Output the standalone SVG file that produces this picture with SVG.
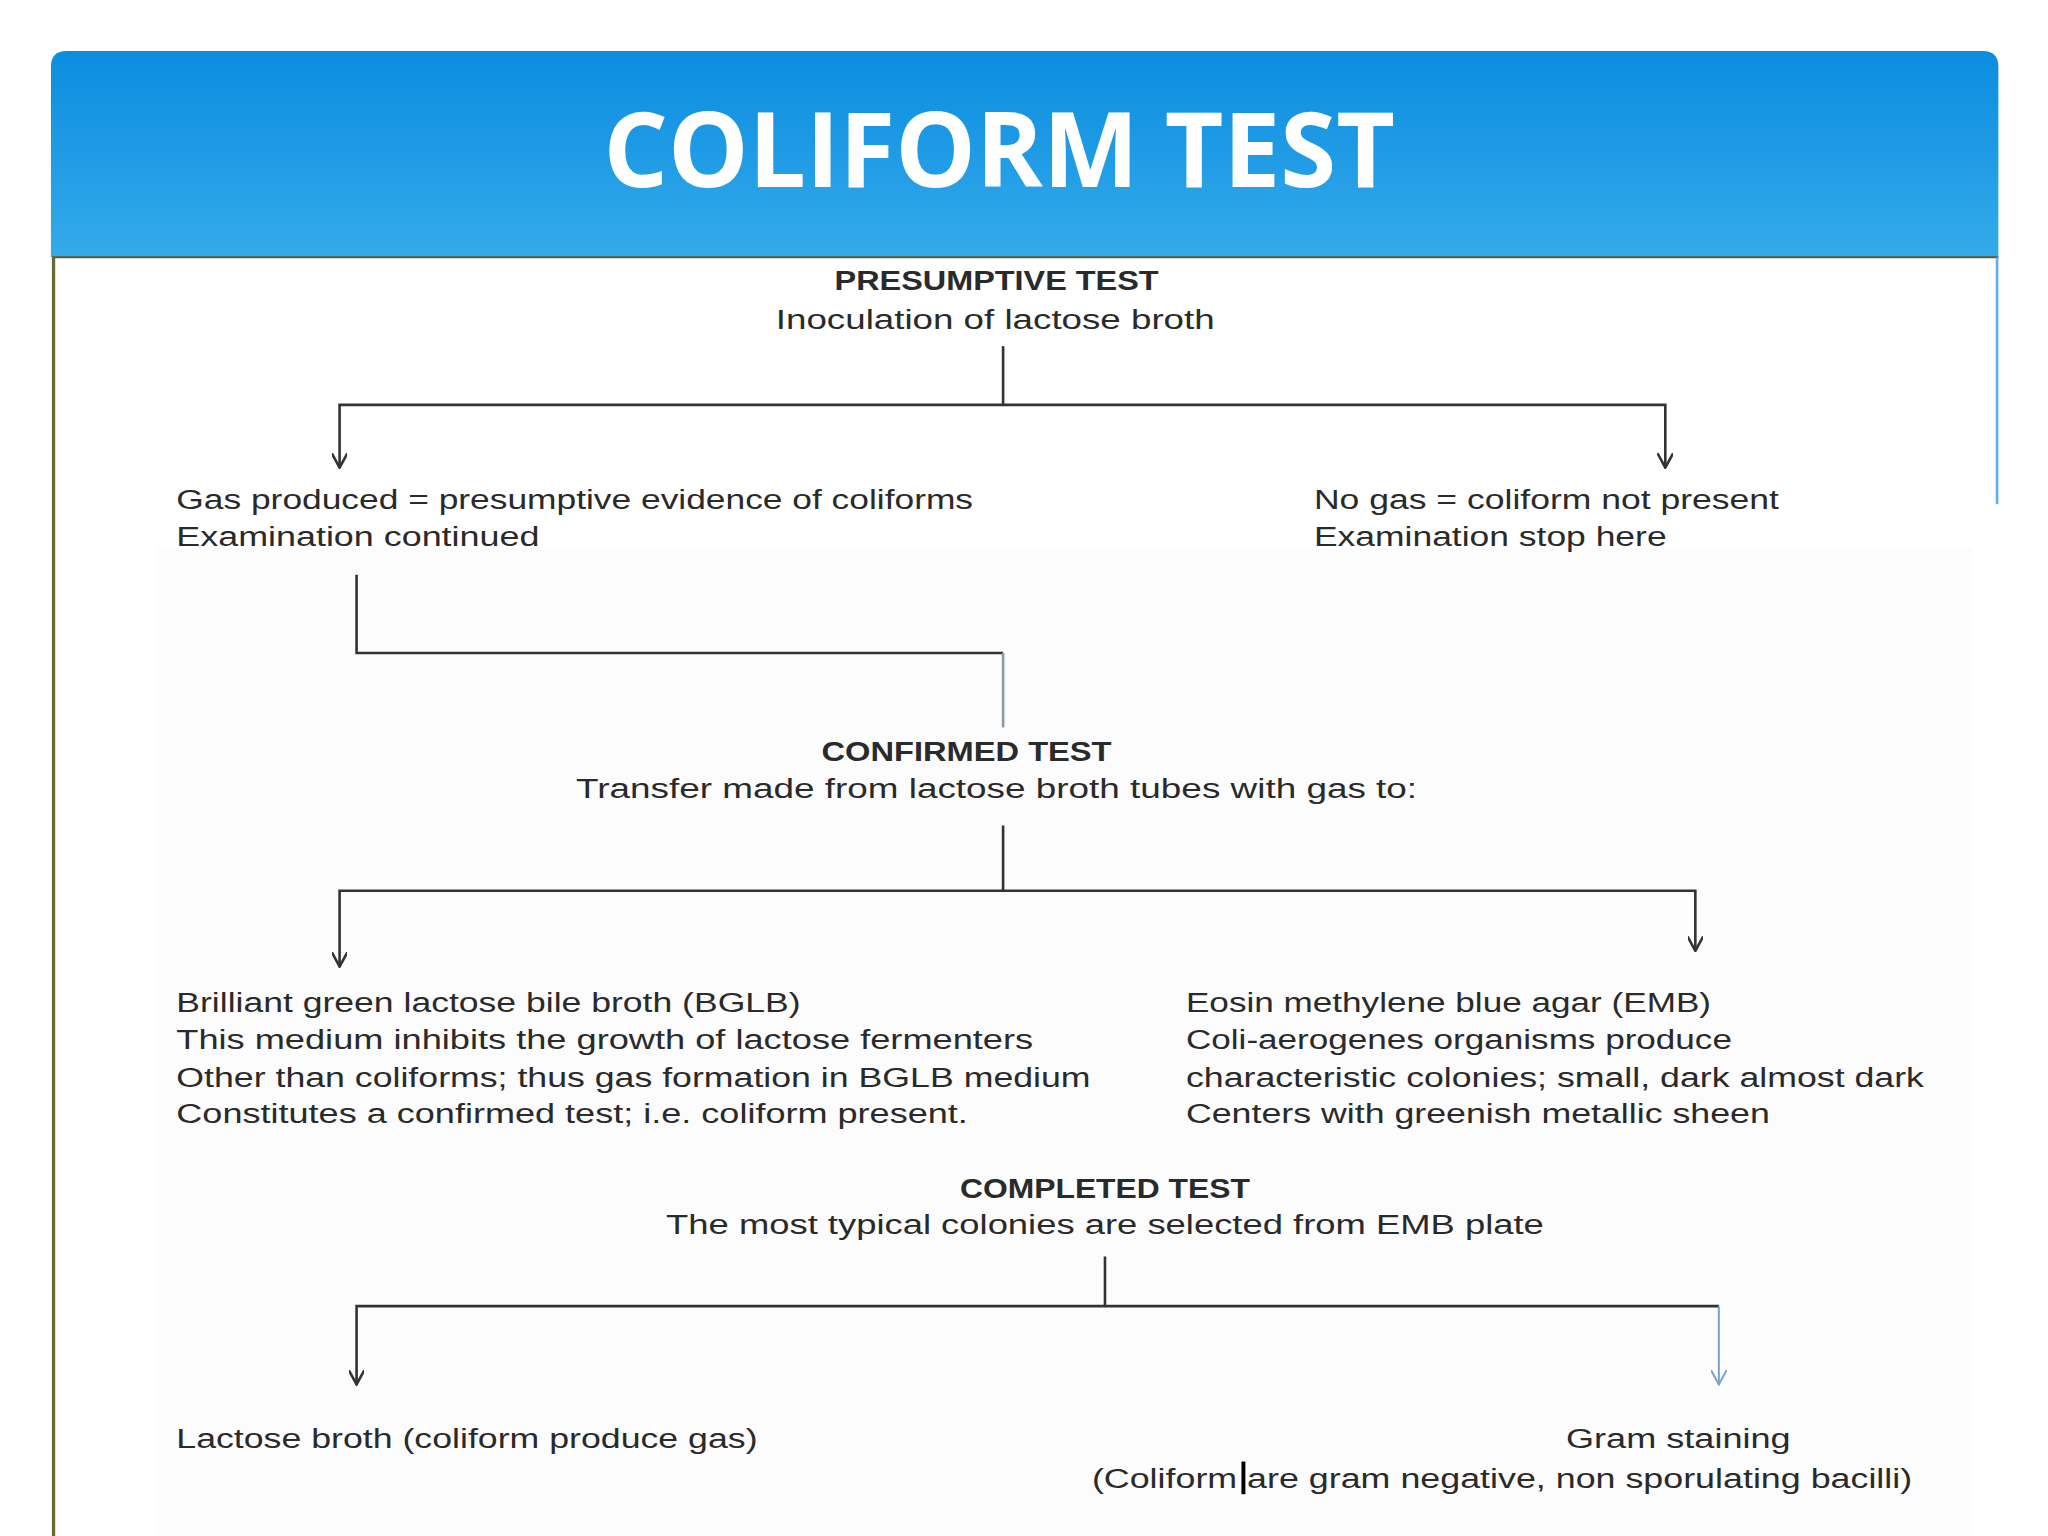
<svg xmlns="http://www.w3.org/2000/svg" width="2048" height="1536" viewBox="0 0 2048 1536">
<defs>
<linearGradient id="hg" x1="0" y1="0" x2="0" y2="1"><stop offset="0" stop-color="#0b8de0"/><stop offset="1" stop-color="#34aaea"/></linearGradient>
<marker id="ah" viewBox="0 0 12 12" refX="11" refY="6" markerWidth="12" markerHeight="12" markerUnits="userSpaceOnUse" orient="auto-start-reverse"><path d="M0,0 L11,6 L0,12" fill="none" stroke="#333" stroke-width="2"/></marker>
<marker id="ahb" viewBox="0 0 12 12" refX="11" refY="6" markerWidth="12" markerHeight="12" markerUnits="userSpaceOnUse" orient="auto"><path d="M0,0 L11,6 L0,12" fill="none" stroke="#7aa0c8" stroke-width="1.5"/></marker>
<style>
text{font-family:"Liberation Sans",Arial,sans-serif;font-size:21px;fill:#2a2a2a}
.b{font-weight:bold}
.c{text-anchor:middle}
.ln{fill:none;stroke:#333;stroke-width:2}
</style>
</defs>
<rect width="2048" height="1536" fill="#fff"/>
<g transform="scale(1.30612)">
<rect x="120" y="420" width="1390" height="756" fill="#fcfcfd"/>
<g id="header">
<path d="M39,197 V51 Q39,39 51,39 H1518 Q1530,39 1530,51 V197 Z" fill="url(#hg)"/>
<text x="765" y="143" class="c b" style="font-family:'Open Sans',sans-serif;font-size:80px;fill:#fff" textLength="606" lengthAdjust="spacingAndGlyphs">COLIFORM TEST</text>
</g>
<line x1="40" y1="197" x2="1530" y2="197" stroke="#5a5a2a" stroke-width="1.5"/>
<line x1="41" y1="197" x2="41" y2="1176" stroke="#6a6a30" stroke-width="2.5"/>
<line x1="1529" y1="197" x2="1529" y2="386" stroke="#5ab0e8" stroke-width="2"/>
<g id="connectors">
<path class="ln" d="M768,265 V310"/>
<path class="ln" d="M260,358 V310 H1275 V358" marker-start="url(#ah)" marker-end="url(#ah)"/>
<path class="ln" d="M273,440 V500 H768"/>
<path d="M768,500 V557" stroke="#8a9aa8" stroke-width="2" fill="none"/>
<path class="ln" d="M768,632 V682"/>
<path class="ln" d="M260,740 V682 H1298 V728" marker-start="url(#ah)" marker-end="url(#ah)"/>
<path class="ln" d="M846,962 V1000"/>
<path class="ln" d="M273,1060 V1000 H1316" marker-start="url(#ah)"/>
<path d="M1316,1000 V1060" stroke="#7aa0c8" stroke-width="1.5" fill="none" marker-end="url(#ahb)"/>
</g>
<g id="presumptive">
<text x="763" y="222" class="c b" textLength="248" lengthAdjust="spacingAndGlyphs">PRESUMPTIVE TEST</text>
<text x="762" y="252" class="c" textLength="336" lengthAdjust="spacingAndGlyphs">Inoculation of lactose broth</text>
</g>
<g id="gas">
<text x="135" y="390" textLength="610" lengthAdjust="spacingAndGlyphs">Gas produced = presumptive evidence of coliforms</text>
<text x="135" y="418" textLength="278" lengthAdjust="spacingAndGlyphs">Examination continued</text>
</g>
<g id="nogas">
<text x="1006" y="390" textLength="356" lengthAdjust="spacingAndGlyphs">No gas = coliform not present</text>
<text x="1006" y="418" textLength="270" lengthAdjust="spacingAndGlyphs">Examination stop here</text>
</g>
<g id="confirmed">
<text x="740" y="583" class="c b" textLength="222" lengthAdjust="spacingAndGlyphs">CONFIRMED TEST</text>
<text x="763" y="611" class="c" textLength="644" lengthAdjust="spacingAndGlyphs">Transfer made from lactose broth tubes with gas to:</text>
</g>
<g id="bglb">
<text x="135" y="775" textLength="478" lengthAdjust="spacingAndGlyphs">Brilliant green lactose bile broth (BGLB)</text>
<text x="135" y="803" textLength="656" lengthAdjust="spacingAndGlyphs">This medium inhibits the growth of lactose fermenters</text>
<text x="135" y="832" textLength="700" lengthAdjust="spacingAndGlyphs">Other than coliforms; thus gas formation in BGLB medium</text>
<text x="135" y="860" textLength="606" lengthAdjust="spacingAndGlyphs">Constitutes a confirmed test; i.e. coliform present.</text>
</g>
<g id="emb">
<text x="908" y="775" textLength="402" lengthAdjust="spacingAndGlyphs">Eosin methylene blue agar (EMB)</text>
<text x="908" y="803" textLength="418" lengthAdjust="spacingAndGlyphs">Coli-aerogenes organisms produce</text>
<text x="908" y="832" textLength="565" lengthAdjust="spacingAndGlyphs">characteristic colonies; small, dark almost dark</text>
<text x="908" y="860" textLength="447" lengthAdjust="spacingAndGlyphs">Centers with greenish metallic sheen</text>
</g>
<g id="completed">
<text x="846" y="917" class="c b" textLength="222" lengthAdjust="spacingAndGlyphs">COMPLETED TEST</text>
<text x="846" y="945" class="c" textLength="672" lengthAdjust="spacingAndGlyphs">The most typical colonies are selected from EMB plate</text>
</g>
<g id="lactose">
<text x="135" y="1109" textLength="445" lengthAdjust="spacingAndGlyphs">Lactose broth (coliform produce gas)</text>
</g>
<g id="gram">
<text x="1285" y="1109" class="c" textLength="172" lengthAdjust="spacingAndGlyphs">Gram staining</text>
<text x="836" y="1139" textLength="628" lengthAdjust="spacingAndGlyphs">(Coliform are gram negative, non sporulating bacilli)</text>
<line x1="952" y1="1119" x2="952" y2="1144" stroke="#000" stroke-width="3"/>
</g>
</g>
</svg>
